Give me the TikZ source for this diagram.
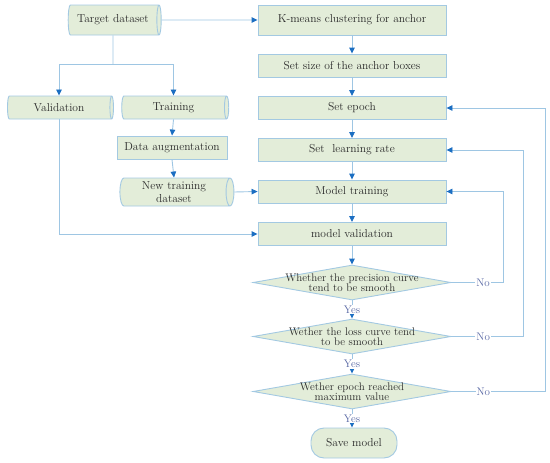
\documentclass[tikz,border=0pt]{standalone}
\usetikzlibrary{shapes.geometric,arrows.meta}
\definecolor{boxfill}{HTML}{E3EDD9}
\definecolor{boxline}{HTML}{A3C9E2}
\definecolor{arrowc}{HTML}{1B6EC2}
\definecolor{linec}{HTML}{9EC6E3}
\definecolor{labc}{HTML}{5565A3}
\definecolor{txt}{HTML}{2A2A2A}
\begin{document}
\begin{tikzpicture}[x=1pt,y=-1pt,
  font=\fontsize{11.5}{12}\selectfont, text=txt,
  base/.style={draw=boxline, fill=boxfill, line width=0.9pt, inner sep=1pt, align=center},
  rbox/.style={base, rectangle, minimum width=188pt, minimum height=23pt},
  cyl/.style={base, cylinder, shape aspect=0.35},
  dia/.style={base, diamond, minimum width=198pt, minimum height=35pt, inner sep=0pt},
  dtext/.style={align=center, font=\fontsize{11}{10}\selectfont},
  conn/.style={draw=linec, line width=0.9pt, -{Triangle[length=6pt,width=5.5pt,color=arrowc]}},
  plain/.style={draw=linec, line width=0.9pt},
  lab/.style={text=labc, fill=white, inner sep=1pt, font=\fontsize{11}{11}\selectfont}
  ]
\useasboundingbox (0,0) rectangle (550,463);
% left column
\node[cyl, minimum height=93pt, minimum width=30pt] (target) at (113,20) {Target dataset};
\node[cyl, minimum height=106pt, minimum width=23pt] (val) at (59,107.5) {Validation};
\node[cyl, minimum height=107pt, minimum width=23pt] (train) at (173.5,107.5) {Training};
\node[base, rectangle, minimum width=110pt, minimum height=23pt] (aug) at (172,147.5) {Data augmentation};
\node[cyl, minimum height=114pt, minimum width=28pt, font=\fontsize{11.5}{12.5}\selectfont] (newtrain) at (174,192) {New training\\dataset};
% right column
\node[rbox, minimum height=30pt] (kmeans) at (352,20) {K-means clustering for anchor};
\node[rbox] (size) at (352,65.5) {Set size of the anchor boxes};
\node[rbox] (epoch) at (352,108) {Set epoch};
\node[rbox] (lr) at (352,150) {Set\ \ learning rate};
\node[rbox] (mt) at (352,191.5) {Model training};
\node[rbox] (mv) at (352,234) {model validation};
\node[dia] (d1) at (352,282.5) {};
\node[dtext] (t1) at (d1) {Whether the precision curve\\tend to be smooth};
\node[dia] (d2) at (352,336.5) {};
\node[dtext] (t2) at (d2) {Wether the loss curve tend\\to be smooth};
\node[dia] (d3) at (352,391.5) {};
\node[dtext] (t3) at (d3) {Wether epoch reached\\maximum value};
\node[base, rectangle, rounded corners=13pt, minimum width=86pt, minimum height=30pt] (save) at (354,443) {Save model};
% coordinates
\coordinate (split) at (113,64);
\coordinate (f1) at (503,282.5);
\coordinate (f2) at (523,336.5);
\coordinate (f3) at (545,391.5);
% connectors
\draw[conn] (target.east) -- (kmeans.west);
\draw[plain] (target.south) -- (split);
\draw[conn] (split) -| (val.north);
\draw[conn] (split) -| (train.north);
\draw[conn] (train.south) -- (aug.north);
\draw[conn] (aug.south) -- (newtrain.north);
\draw[conn] (newtrain.east) -- (mt.west);
\draw[conn] (val.south) |- (mv.west);
\draw[conn] (kmeans) -- (size);
\draw[conn] (size) -- (epoch);
\draw[conn] (epoch) -- (lr);
\draw[conn] (lr) -- (mt);
\draw[conn] (mt) -- (mv);
\draw[conn] (mv) -- (d1.north);
\draw[conn] (d1.south) -- node[lab]{Yes} (d2.north);
\draw[conn] (d2.south) -- node[lab]{Yes} (d3.north);
\draw[conn] (d3.south) -- node[lab]{Yes} (save.north -| d3.south);
\draw[plain] (d1.east) -- node[lab, pos=0.615]{No} (f1);
\draw[conn] (f1) |- (mt.east);
\draw[plain] (d2.east) -- node[lab, pos=0.444]{No} (f2);
\draw[conn] (f2) |- (lr.east);
\draw[plain] (d3.east) -- node[lab, pos=0.34]{No} (f3);
\draw[conn] (f3) |- (epoch.east);
\end{tikzpicture}
\end{document}
